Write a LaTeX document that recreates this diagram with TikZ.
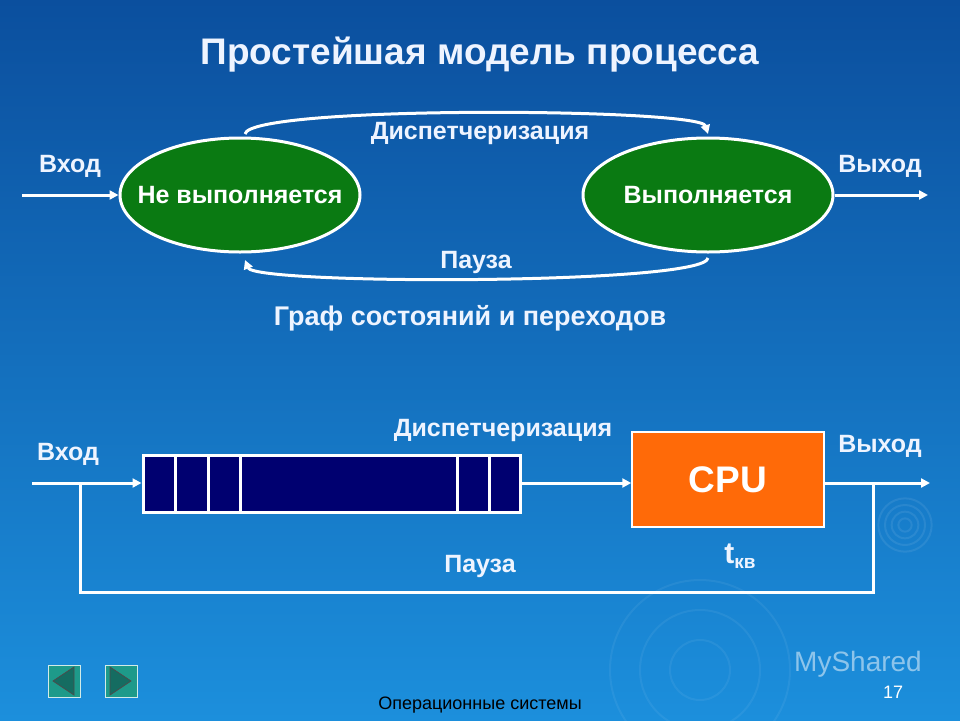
\documentclass[tikz,border=0pt]{standalone}
\usepackage{fontspec}
\setmainfont{Liberation Sans}
\usetikzlibrary{arrows.meta,shapes.geometric}
\definecolor{bgtop}{HTML}{0B4F9E}
\definecolor{bgbot}{HTML}{1C8FDC}
\definecolor{ovgreen}{HTML}{0A7A12}
\definecolor{qblue}{HTML}{000070}
\definecolor{cpuor}{HTML}{FF6A08}
\definecolor{txt}{HTML}{EEF4FF}
\definecolor{navg}{HTML}{1E9A8A}
\tikzset{
  lbl/.style={text=txt,font=\bfseries\fontsize{25}{28}\selectfont},
  wline/.style={draw=white,line width=3pt},
  warr/.style={wline,-{Triangle[length=9pt,width=9pt]}},
  state/.style={ellipse,draw=white,line width=3pt,fill=ovgreen,inner sep=0pt},
  stext/.style={text=white,font=\bfseries\fontsize{25}{28}\selectfont},
  navbtn/.style={draw=white!80!navg,fill=navg,line width=1pt,minimum width=32pt,minimum height=32pt},
}
\begin{document}
\begin{tikzpicture}[x=1pt,y=-1pt]
\shade[top color=bgtop,bottom color=bgbot] (0,0) rectangle (960,720);
\useasboundingbox (0,0) rectangle (960,720);
% watermark rings
\foreach \r in {20,40,60,80}{\draw[white,opacity=0.08,line width=2pt] (905,525) circle (\r/3);}
\foreach \r in {30,60,90}{\draw[white,opacity=0.06,line width=2pt] (700,670) circle (\r);}
\node[text=txt,font=\bfseries\fontsize{37}{40}\selectfont] (title) at (480,55) {Простейшая модель процесса};
% top graph
\node[state,minimum width=240pt,minimum height=114pt] (ne) at (240,195) {};
\node[stext] (net) at (ne.center) {Не выполняется};
\node[state,minimum width=250pt,minimum height=114pt] (vy) at (708,195) {};
\node[stext] (vyt) at (vy.center) {Выполняется};
\coordinate (inL) at (22,195);
\coordinate (outR) at (928,195);
\draw[warr] (inL) -- (ne.west);
\draw[warr] (vy.east) -- (outR);
\draw[warr] (245,134) .. controls (250,105) and (700,108) .. (708,134);
\draw[warr] (708,258) .. controls (705,285) and (255,285) .. (245,260);
\node[lbl] (vh1) at (70,166) {Вход};
\node[lbl] (vyh1) at (880,166) {Выход};
\node[lbl] (d1) at (480,133) {Диспетчеризация};
\node[lbl] (p1) at (476,262) {Пауза};
\node[lbl,font=\bfseries\fontsize{27}{30}\selectfont] (graf) at (470,318) {Граф состояний и переходов};
% bottom
\node[draw=white,line width=3pt,fill=qblue,minimum width=377pt,minimum height=57pt,inner sep=0pt] (q) at (331.5,483.5) {};
\foreach \x in {175,208,240,457,489}{\draw[white,line width=3pt] (\x,455) -- (\x,512);}
\node[draw=white,line width=1.5pt,fill=cpuor,minimum width=192pt,minimum height=95pt,inner sep=0pt,text=white,font=\bfseries\fontsize{37}{40}\selectfont] (cpu) at (728,479.5) {CPU};
\coordinate (inB) at (32,483);
\coordinate (outB) at (930,483);
\coordinate (fbL) at (80,483);
\coordinate (fbR) at (873,483);
\draw[warr] (inB) -- (q.west |- inB);
\draw[warr] (q.east |- inB) -- (cpu.west |- inB);
\draw[warr] (cpu.east |- inB) -- (outB);
\draw[wline] (fbR) -- (873,592) -- (80,592) -- (fbL);
\node[lbl] (vh2) at (68,454) {Вход};
\node[lbl] (vyh2) at (880,446) {Выход};
\node[lbl] (d2) at (503,430) {Диспетчеризация};
\node[lbl] (p2) at (480,566) {Пауза};
\node[text=txt,font=\bfseries\fontsize{30}{34}\selectfont] (tkv) at (740,556) {t\raisebox{-0.35ex}{\fontsize{19}{22}\selectfont кв}};
% footer
\node[navbtn] (b1) at (64,681) {};
\node[navbtn] (b2) at (121,681) {};
\draw[black!70,fill=navg!70!black,line width=0.8pt] (74,667) -- (53,681) -- (74,695) -- cycle;
\draw[black!70,fill=navg!70!black,line width=0.8pt] (110,667) -- (131,681) -- (110,695) -- cycle;
\node[text=black,font=\fontsize{18}{20}\selectfont] (foot) at (480,705) {Операционные системы};
\node[text=white,opacity=0.5,font=\fontsize{28}{30}\selectfont] (ms) at (858,664) {MyShared};
\node[text=white,font=\fontsize{18}{20}\selectfont] (num) at (893,692) {17};
\end{tikzpicture}
\end{document}
